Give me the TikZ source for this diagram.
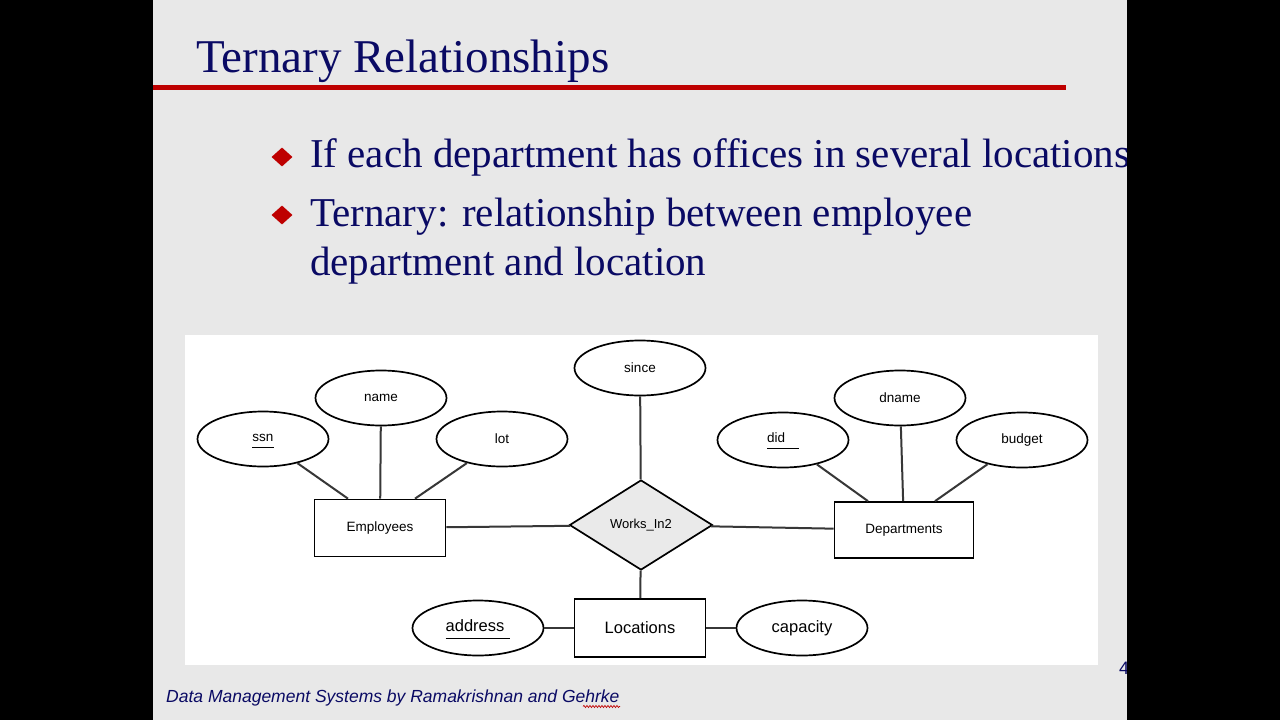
\documentclass[tikz,border=0pt]{standalone}
\usepackage{fontspec}
\setmainfont{Liberation Serif}
\setsansfont{Liberation Sans}
\usetikzlibrary{shapes.geometric,decorations.pathmorphing}

\definecolor{slidegray}{RGB}{232,232,232}
\definecolor{navy}{RGB}{10,10,100}
\definecolor{slidered}{RGB}{190,0,0}
\definecolor{linegray}{RGB}{55,55,55}
\definecolor{relfill}{RGB}{234,234,234}

\newcommand{\keyattr}[1]{\underline{#1\strut}}

\begin{document}
\begin{tikzpicture}[x=1pt,y=-1pt,
  attr/.style={ellipse, draw=black, line width=1.7pt, fill=white, minimum width=131pt, minimum height=55pt, inner sep=0pt, font=\sffamily\fontsize{13.5}{16}\selectfont},
  entity/.style={rectangle, draw=black, line width=1.7pt, fill=white, minimum width=131pt, minimum height=57pt, inner sep=0pt, font=\sffamily\fontsize{13.5}{16}\selectfont},
  rel/.style={diamond, aspect=1.6, draw=black, line width=1.7pt, fill=relfill, minimum width=143pt, minimum height=90pt, inner sep=0pt, font=\sffamily\fontsize{13}{16}\selectfont},
  bigtext/.style={font=\sffamily\fontsize{16.5}{20}\selectfont},
  link/.style={draw=linegray, line width=2pt},
  bullet/.style={diamond, fill=slidered, minimum width=21pt, minimum height=19pt, inner sep=0pt},
  slidetext/.style={anchor=base west, text=navy, inner sep=0pt, font=\fontsize{41}{50}\selectfont}]

  % slide
  \useasboundingbox (0,0) rectangle (1280,720);
  \fill[slidegray] (0,0) rectangle (1280,720);
  \node[slidetext, font=\fontsize{47}{55}\selectfont] (title) at (196,72) {Ternary Relationships};
  \draw[slidered, line width=5pt] (153,87.5) -- (1066,87.5);

  \node[bullet] (b1) at (282,157) {};
  \node[slidetext] (t1) at (310,167) {If each department has offices in several locations};
  \node[bullet] (b2) at (282,215) {};
  \node[slidetext] (t2) at (310,226) {Ternary: relationship between employee};
  \node[slidetext] (t3) at (310,275) {department and location};

  % diagram
  \fill[white] (185,335) rectangle (1098,665);

  \node[attr] (since) at (640,368) {since};
  \node[attr] (ename) at (381,398) {name};
  \node[attr] (ssn) at (263,439) {\keyattr{ssn}};
  \node[attr] (lot) at (502,439) {lot};
  \node[entity] (emp) at (380,528) {Employees};

  \node[rel] (works) at (641,525) {Works\_In2};

  \node[attr] (did) at (783,440) {\keyattr{did\hspace{14pt}}};
  \node[attr] (dname) at (900,398) {dname};
  \node[attr] (budget) at (1022,440) {budget};
  \node[entity, minimum width=139pt, minimum height=56pt] (dept) at (904,530) {Departments};

  \node[entity, bigtext, minimum height=58pt] (loc) at (640,628) {Locations};
  \node[attr, bigtext] (address) at (478,628) {\keyattr{address\hspace{6pt}}};
  \node[attr, bigtext] (capacity) at (802,628) {capacity};

  \draw[link] (ssn) -- ([xshift=-32pt]emp.north);
  \draw[link] (ename) -- (emp);
  \draw[link] (lot) -- ([xshift=35pt]emp.north);
  \draw[link] (did) -- ([xshift=-36pt]dept.north);
  \draw[link] (dname) -- (dept);
  \draw[link] (budget) -- ([xshift=31pt]dept.north);
  \draw[link] (emp) -- (works);
  \draw[link] (works) -- (dept);
  \draw[link] (since) -- (works);
  \draw[link] (works) -- (loc);
  \draw[link] (address) -- (loc);
  \draw[link] (loc) -- (capacity);

  % footer
  \node[anchor=base west, inner sep=0pt, text=navy, font=\sffamily\itshape\fontsize{17.5}{20}\selectfont] (footer) at (166,702) {Data Management Systems by Ramakrishnan and Gehrke};
  \draw[slidered, line width=0.7pt, decorate, decoration={snake, amplitude=1pt, segment length=3pt}] (583,706.5) -- (620,706.5);
  \node[anchor=base west, inner sep=0pt, text=navy, font=\sffamily\fontsize{18}{20}\selectfont] (pageno) at (1119,674) {4};

  % black bars
  \fill[black] (0,0) rectangle (153,720);
  \fill[black] (1127,0) rectangle (1280,720);
\end{tikzpicture}
\end{document}
